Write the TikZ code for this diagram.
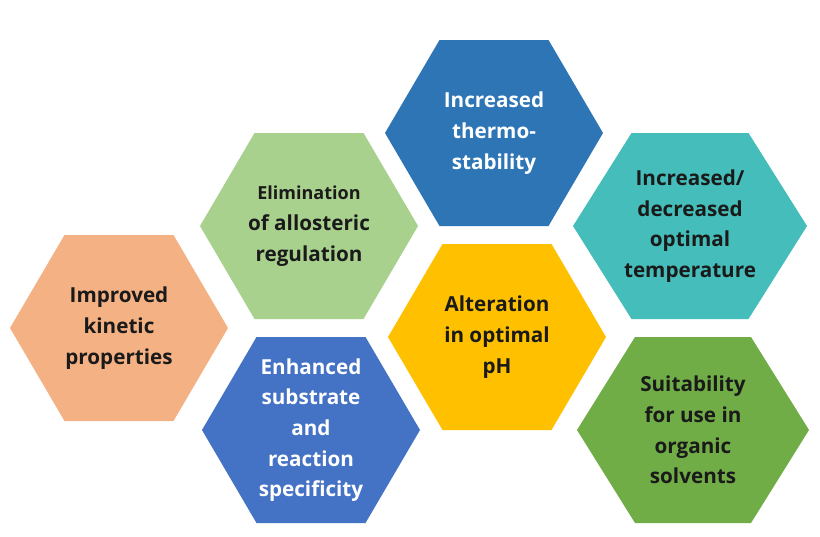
\documentclass[tikz,border=0pt]{standalone}
\usepackage{fontspec}
\setmainfont{Open Sans}
\definecolor{cOr}{HTML}{F4B183}
\definecolor{cLg}{HTML}{A9D18E}
\definecolor{cBl}{HTML}{4472C4}
\definecolor{cDb}{HTML}{2E75B6}
\definecolor{cGo}{HTML}{FFC000}
\definecolor{cTe}{HTML}{45BDBA}
\definecolor{cGr}{HTML}{70AD47}
\definecolor{cTx}{HTML}{1A1A1A}
\tikzset{hexlabel/.style={align=center,font=\fontsize{15.5}{23}\selectfont\bfseries}}
\newcommand{\myhex}[7]{% name, x, y, halfwidth, fill, textcolor, text
  \fill[#5] ({#2-#4},#3) -- ({#2-#4/2},{#3-93}) -- ({#2+#4/2},{#3-93}) -- ({#2+#4},#3) -- ({#2+#4/2},{#3+93}) -- ({#2-#4/2},{#3+93}) -- cycle;
  \node[hexlabel,text=#6] (#1) at (#2,#3) {#7};}
\begin{document}
\begin{tikzpicture}[x=0.75pt,y=-0.75pt]
\useasboundingbox[fill=white] (0,0) rectangle (820,536);
\myhex{kin}{119}{328}{109}{cOr}{cTx}{Improved\\kinetic\\properties}
\myhex{eli}{309}{226}{109}{cLg}{cTx}{\fontsize{13.5}{20}\selectfont Elimination\\of allosteric\\regulation}
\myhex{enh}{311}{430}{109}{cBl}{white}{Enhanced\\substrate\\and\\reaction\\specificity}
\myhex{thr}{494}{133}{109}{cDb}{white}{Increased\\thermo-\\stability}
\myhex{alt}{497}{337}{109}{cGo}{cTx}{Alteration\\in optimal\\pH}
\myhex{tem}{690}{226}{117}{cTe}{cTx}{Increased/\\decreased\\optimal\\temperature}
\myhex{sol}{693}{430}{116}{cGr}{cTx}{Suitability\\for use in\\organic\\solvents}
\end{tikzpicture}
\end{document}
